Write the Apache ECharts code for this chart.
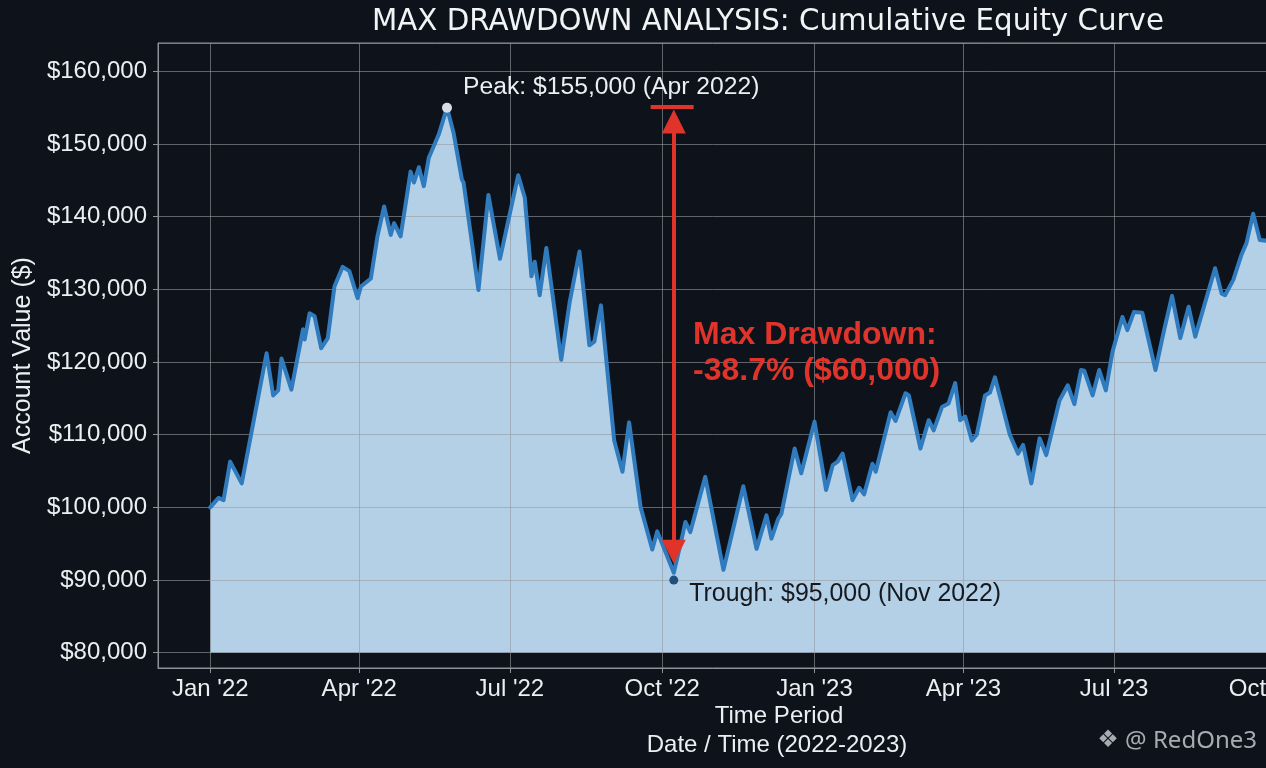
<!DOCTYPE html>
<html>
<head>
<meta charset="utf-8">
<title>Max Drawdown Analysis</title>
<script src="https://cdn.jsdelivr.net/npm/echarts@6/dist/echarts.min.js"></script>
<style>
  html, body { margin: 0; padding: 0; background: #0e131b; }
  #chart { width: 1266px; height: 768px; }
</style>
</head>
<body>
<div id="chart"></div>
<script>
// equity curve
var dates = [
  '2022-01-01','2022-01-06','2022-01-09','2022-01-13','2022-01-20','2022-02-04','2022-02-08','2022-02-11','2022-02-13','2022-02-19',
  '2022-02-26','2022-02-27','2022-03-02','2022-03-05','2022-03-09','2022-03-13','2022-03-17','2022-03-22','2022-03-26','2022-03-31',
  '2022-04-02','2022-04-08','2022-04-12','2022-04-16','2022-04-20','2022-04-22','2022-04-26','2022-05-02','2022-05-04','2022-05-07',
  '2022-05-10','2022-05-13','2022-05-19','2022-05-24','2022-05-28','2022-06-02','2022-06-03','2022-06-12','2022-06-18','2022-06-25',
  '2022-07-06','2022-07-10','2022-07-14','2022-07-16','2022-07-19','2022-07-23','2022-08-01','2022-08-06','2022-08-12','2022-08-18',
  '2022-08-21','2022-08-25','2022-09-02','2022-09-07','2022-09-11','2022-09-18','2022-09-19','2022-09-25','2022-09-28','2022-10-08',
  '2022-10-13','2022-10-15','2022-10-18','2022-10-27','2022-11-07','2022-11-19','2022-11-27','2022-12-03','2022-12-06','2022-12-10',
  '2022-12-12','2022-12-20','2022-12-24','2023-01-01','2023-01-08','2023-01-12','2023-01-15','2023-01-18','2023-01-24','2023-01-28',
  '2023-01-31','2023-02-05','2023-02-07','2023-02-16','2023-02-19','2023-02-25','2023-02-27','2023-03-06','2023-03-11','2023-03-14',
  '2023-03-19','2023-03-23','2023-03-27','2023-03-30','2023-04-02','2023-04-06','2023-04-09','2023-04-14','2023-04-17','2023-04-20',
  '2023-04-29','2023-05-04','2023-05-07','2023-05-12','2023-05-17','2023-05-21','2023-05-29','2023-06-03','2023-06-07','2023-06-11',
  '2023-06-13','2023-06-18','2023-06-22','2023-06-26','2023-06-30','2023-07-06','2023-07-09','2023-07-13','2023-07-18','2023-07-26',
  '2023-07-31','2023-08-05','2023-08-10','2023-08-15','2023-08-19','2023-08-31','2023-09-04','2023-09-06','2023-09-11','2023-09-16',
  '2023-09-19','2023-09-23','2023-09-27','2023-10-01','2023-10-05'
];
var values = [
  100000,101300,101000,106300,103300,121200,115400,116100,120500,116200,
  124500,123100,126700,126300,121900,123300,130400,133100,132500,128800,
  130400,131500,137300,141400,137500,139100,137300,146200,144700,146800,
  144200,148100,151300,155000,151500,145100,144700,129900,143000,134200,
  145700,142600,131800,133800,129200,135700,120300,128100,135200,122300,
  122800,127800,109200,104900,111700,100000,99800,94200,96700,91000,
  95900,98000,96600,104200,91400,102900,94300,98900,95700,98400,
  99100,108100,104700,111800,102400,105800,106300,107400,101000,102700,
  101800,106000,104900,113100,111900,115700,115400,108100,112000,110600,
  113800,114300,117100,112000,112500,109200,110000,115400,115800,117900,
  110000,107400,108600,103300,109500,107200,114700,116800,114200,118900,
  118800,115400,118900,116100,121400,126200,124400,126900,126800,118900,
  124200,129100,123300,127600,123500,132900,129400,129200,131300,134800,
  136400,140400,136800,136700,137500
];

var tickDates = ['2022-01-01','2022-04-01','2022-07-01','2022-10-01','2023-01-01','2023-04-01','2023-07-01','2023-10-01'];
var xRange = ['2021-11-30 10:00', '2023-11-06'];
var yRange = [77900, 163900];
var fillBase = 80000;

var peakPoint = ['2022-05-24', 155000];
var troughPoint = ['2022-10-08', 90000];
var peakText = 'Peak: $155,000 (Apr 2022)';
var troughText = 'Trough: $95,000 (Nov 2022)';

// drawdown arrow: shaft ends and the cap above the peak level
var arrowDate = '2022-10-08';
var arrowEnds = [153100, 93900];
var capDates = ['2022-09-24', '2022-10-20'];
var capValue = 155100;
var ddText = 'Max Drawdown:\n-38.7% ($60,000)';

var months = ['Jan','Feb','Mar','Apr','May','Jun','Jul','Aug','Sep','Oct','Nov','Dec'];
var bg = '#0e131b';
var ink = '#eceef1';
var red = '#e0342b';
var gridGray = 'rgba(150,155,162,0.6)';
var frame = '#8d9299';
var font = '"Liberation Sans", Arial, sans-serif';

function ts(s) { return echarts.number.parseDate(s).getTime(); }

var chart = echarts.init(document.getElementById('chart'), null, { renderer: 'canvas' });

var seriesData = dates.map(function(d, i) { return [ts(d), values[i]]; });
var tickValues = tickDates.map(ts);

chart.setOption({
  animation: false,
  backgroundColor: bg,
  textStyle: { fontFamily: font },
  grid: {
    left: 158, top: 43, right: -60, bottom: 100,
    outerBoundsMode: 'none',
    containLabel: false,
    show: true, borderColor: frame, borderWidth: 1
  },
  xAxis: {
    type: 'value',
    z: 2,
    min: ts(xRange[0]),
    max: ts(xRange[1]),
    axisLine: { show: true, onZero: false, lineStyle: { color: frame, width: 1 } },
    axisTick: { show: true, length: 5, lineStyle: { color: frame }, customValues: tickValues },
    axisLabel: {
      customValues: tickValues,
      color: ink, fontSize: 24, margin: 9,
      formatter: function(v) {
        var d = new Date(v);
        return months[d.getMonth()] + " '" + String(d.getFullYear()).slice(2);
      }
    },
    splitLine: { show: true, lineStyle: { color: gridGray, width: 1 } }
  },
  yAxis: {
    type: 'value',
    z: 2,
    min: yRange[0],
    max: yRange[1],
    splitNumber: 8,
    name: 'Account Value ($)',
    nameLocation: 'middle',
    nameGap: 117,
    nameRotate: 90,
    nameTextStyle: { color: ink, fontSize: 25 },
    axisLine: { show: true, lineStyle: { color: frame, width: 1 } },
    axisTick: { show: true, length: 5, lineStyle: { color: frame } },
    axisLabel: {
      color: ink, fontSize: 24, margin: 11,
      showMinLabel: false, showMaxLabel: false,
      formatter: function(v) { return '$' + v.toLocaleString('en-US'); }
    },
    splitLine: { show: true, lineStyle: { color: gridGray, width: 1 } }
  },
  series: [
    {
      // fill under the curve, below the grid lines
      type: 'line',
      data: seriesData,
      showSymbol: false,
      symbol: 'none',
      silent: true,
      z: 1,
      lineStyle: { width: 0 },
      areaStyle: { color: '#b3d0e6', opacity: 1, origin: fillBase }
    },
    {
      type: 'line',
      data: seriesData,
      showSymbol: false,
      symbol: 'none',
      z: 3,
      lineStyle: { color: '#2f7bbd', width: 4, join: 'round', cap: 'round' }
    },
    {
      type: 'scatter',
      data: [[ts(peakPoint[0]), peakPoint[1]]],
      symbolSize: 10,
      z: 4,
      itemStyle: { color: '#d8dde4', opacity: 1 },
      label: {
        show: true,
        formatter: peakText,
        position: [21, -15],
        align: 'left',
        verticalAlign: 'middle',
        color: ink,
        opacity: 1,
        fontSize: 24.7
      }
    },
    {
      type: 'scatter',
      data: [[ts(troughPoint[0]), troughPoint[1]]],
      symbolSize: 9,
      z: 5,
      itemStyle: { color: '#1f4f7c', opacity: 1 },
      label: {
        show: true,
        formatter: troughText,
        position: [20, 19],
        align: 'left',
        verticalAlign: 'middle',
        color: '#15191f',
        opacity: 1,
        fontSize: 24.9
      },
      markLine: {
        silent: true,
        symbol: ['none', 'none'],
        label: { show: false },
        lineStyle: { color: red, width: 4, type: 'solid', opacity: 1 },
        data: [
          [
            { coord: [ts(arrowDate), arrowEnds[0]], symbol: 'triangle', symbolSize: [24, 24] },
            { coord: [ts(arrowDate), arrowEnds[1]], symbol: 'triangle', symbolSize: [24, 24] }
          ],
          [
            { coord: [ts(capDates[0]), capValue] },
            { coord: [ts(capDates[1]), capValue] }
          ]
        ]
      }
    }
  ],
  graphic: [
    {
      type: 'text', x: 768, y: 22,
      style: { text: 'MAX DRAWDOWN ANALYSIS: Cumulative Equity Curve', fill: '#f2f3f5',
               font: '29.3px "DejaVu Sans"', align: 'center', verticalAlign: 'middle' }
    },
    {
      type: 'text', x: 693, y: 317, z: 10,
      style: { text: ddText, fill: red, font: 'bold 32px "Liberation Sans"',
               lineHeight: 36, align: 'left', verticalAlign: 'top' }
    },
    {
      type: 'text', x: 779, y: 716,
      style: { text: 'Time Period', fill: ink, font: '24px "Liberation Sans"', align: 'center', verticalAlign: 'middle' }
    },
    {
      type: 'text', x: 777, y: 745,
      style: { text: 'Date / Time (2022-2023)', fill: ink, font: '24px "Liberation Sans"', align: 'center', verticalAlign: 'middle' }
    },
    {
      type: 'text', x: 1108, y: 741,
      style: { text: '\u2756', fill: '#a8acb2', font: '24px "DejaVu Sans"', align: 'center', verticalAlign: 'middle' }
    },
    {
      type: 'text', x: 1257, y: 741,
      style: { text: '@ RedOne3', fill: '#a8acb2', font: '24px "Noto Sans"', align: 'right', verticalAlign: 'middle' }
    }
  ]
});

window.addEventListener('resize', function() { chart.resize(); });
</script>
</body>
</html>
